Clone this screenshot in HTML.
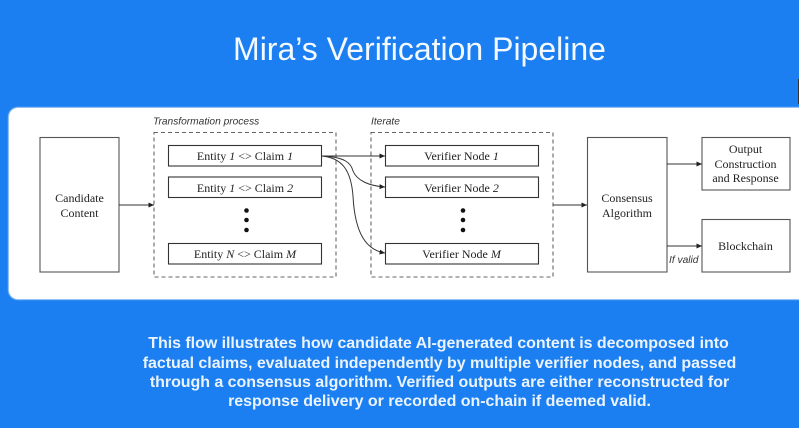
<!DOCTYPE html>
<html><head><meta charset="utf-8"><style>
html,body{margin:0;padding:0}
body{width:799px;height:428px;overflow:hidden;background:#1b7ff1;position:relative;font-family:"Liberation Sans",sans-serif}
#card{position:absolute;left:8.5px;top:107.5px;width:800px;height:191.5px;background:#fff;border-radius:9px;box-shadow:0 0 1px 1px #a9ccf6}
#mark{position:absolute;left:798px;top:79px;width:1px;height:25px;background:#333}
svg{position:absolute;left:0;top:0}
.c{position:absolute;left:0;width:799px;text-align:center;color:#fff}
#title{top:30px;left:20px;font-size:32px;line-height:38px;color:#f4f9ff}
.l{font-size:16px;line-height:19px;font-weight:bold;color:#eaf3fe;left:40px;letter-spacing:-.04px}
</style></head><body>
<div class="c" id="title">Mira’s Verification Pipeline</div>
<div id="card"></div><div id="mark"></div>
<svg width="799" height="428" viewBox="0 0 799 428">
<defs><marker id="a" markerWidth="6" markerHeight="6" refX="5.5" refY="2.5" orient="auto" markerUnits="userSpaceOnUse"><path d="M0 0L5.5 2.5L0 5z" fill="#222"/></marker></defs>
<g fill="none" stroke="#555" stroke-width="1.1">
<rect x="40" y="137.5" width="79" height="134.5"/>
<rect x="587.5" y="137.5" width="79.5" height="134.5"/>
<rect x="702" y="137.5" width="88" height="52.5"/>
<rect x="702" y="219.5" width="88" height="52.5"/>
<g stroke="#666" stroke-dasharray="4 3"><rect x="154" y="132.5" width="182" height="144.5"/><rect x="371" y="132.5" width="182" height="144.5"/></g>
<g stroke="#333"><rect x="168.500" y="145.500" width="153" height="20.500"/><rect x="168.500" y="177" width="153" height="20.500"/><rect x="168.500" y="243.500" width="153" height="20.500"/><rect x="385.500" y="145.500" width="153" height="20.500"/><rect x="385.500" y="177" width="153" height="20.500"/><rect x="385.500" y="243.500" width="153" height="20.500"/></g>
<g stroke="#333" stroke-width="1">
<path d="M119 205H154" marker-end="url(#a)"/><path d="M553 205H587" marker-end="url(#a)"/><path d="M667 164H702" marker-end="url(#a)"/><path d="M667 246H702" marker-end="url(#a)"/>
<path d="M322 156H385" marker-end="url(#a)"/>
<path d="M322 156C345 157 351 163 353 171C357 181 370 186 385 187" marker-end="url(#a)"/>
<path d="M322 156C342 158 351 170 353 196C355 235 367 250 385 253" marker-end="url(#a)"/>
</g></g>
<g fill="#111"><circle cx="246.500" cy="210.500" r="2.300"/><circle cx="246.500" cy="220" r="2.300"/><circle cx="246.500" cy="230" r="2.300"/><circle cx="463" cy="210.500" r="2.300"/><circle cx="463" cy="220" r="2.300"/><circle cx="463" cy="230" r="2.300"/></g>
<g font-family="'Liberation Serif',serif" font-size="12" fill="#222" text-anchor="middle">
<text x="79.500" y="202">Candidate</text><text x="79.500" y="217">Content</text>
<text x="245" y="160">Entity <tspan font-style="italic">1</tspan> &lt;&gt; Claim <tspan font-style="italic">1</tspan></text>
<text x="245" y="192">Entity <tspan font-style="italic">1</tspan> &lt;&gt; Claim <tspan font-style="italic">2</tspan></text>
<text x="245" y="258">Entity <tspan font-style="italic">N</tspan> &lt;&gt; Claim <tspan font-style="italic">M</tspan></text>
<text x="461.500" y="160">Verifier Node <tspan font-style="italic">1</tspan></text>
<text x="461.500" y="192">Verifier Node <tspan font-style="italic">2</tspan></text>
<text x="461.500" y="258">Verifier Node <tspan font-style="italic">M</tspan></text>
<text x="627" y="202">Consensus</text><text x="627" y="217">Algorithm</text>
<text x="745.500" y="153">Output</text><text x="745.500" y="168">Construction</text><text x="745.500" y="182">and Response</text>
<text x="745.500" y="250">Blockchain</text></g>
<g font-family="'Liberation Sans',sans-serif" font-style="italic" font-size="10.200" fill="#333">
<text x="153" y="124.500">Transformation process</text><text x="371" y="124.500">Iterate</text><text x="669" y="263">If valid</text></g>
</svg>
<div class="c l" style="top:333.500px;left:39px">This flow illustrates how candidate AI-generated content is decomposed into</div>
<div class="c l" style="top:353.500px">factual claims, evaluated independently by multiple verifier nodes, and passed</div>
<div class="c l" style="top:373px">through a consensus algorithm. Verified outputs are either reconstructed for</div>
<div class="c l" style="top:392px">response delivery or recorded on-chain if deemed valid.</div>
</body></html>
